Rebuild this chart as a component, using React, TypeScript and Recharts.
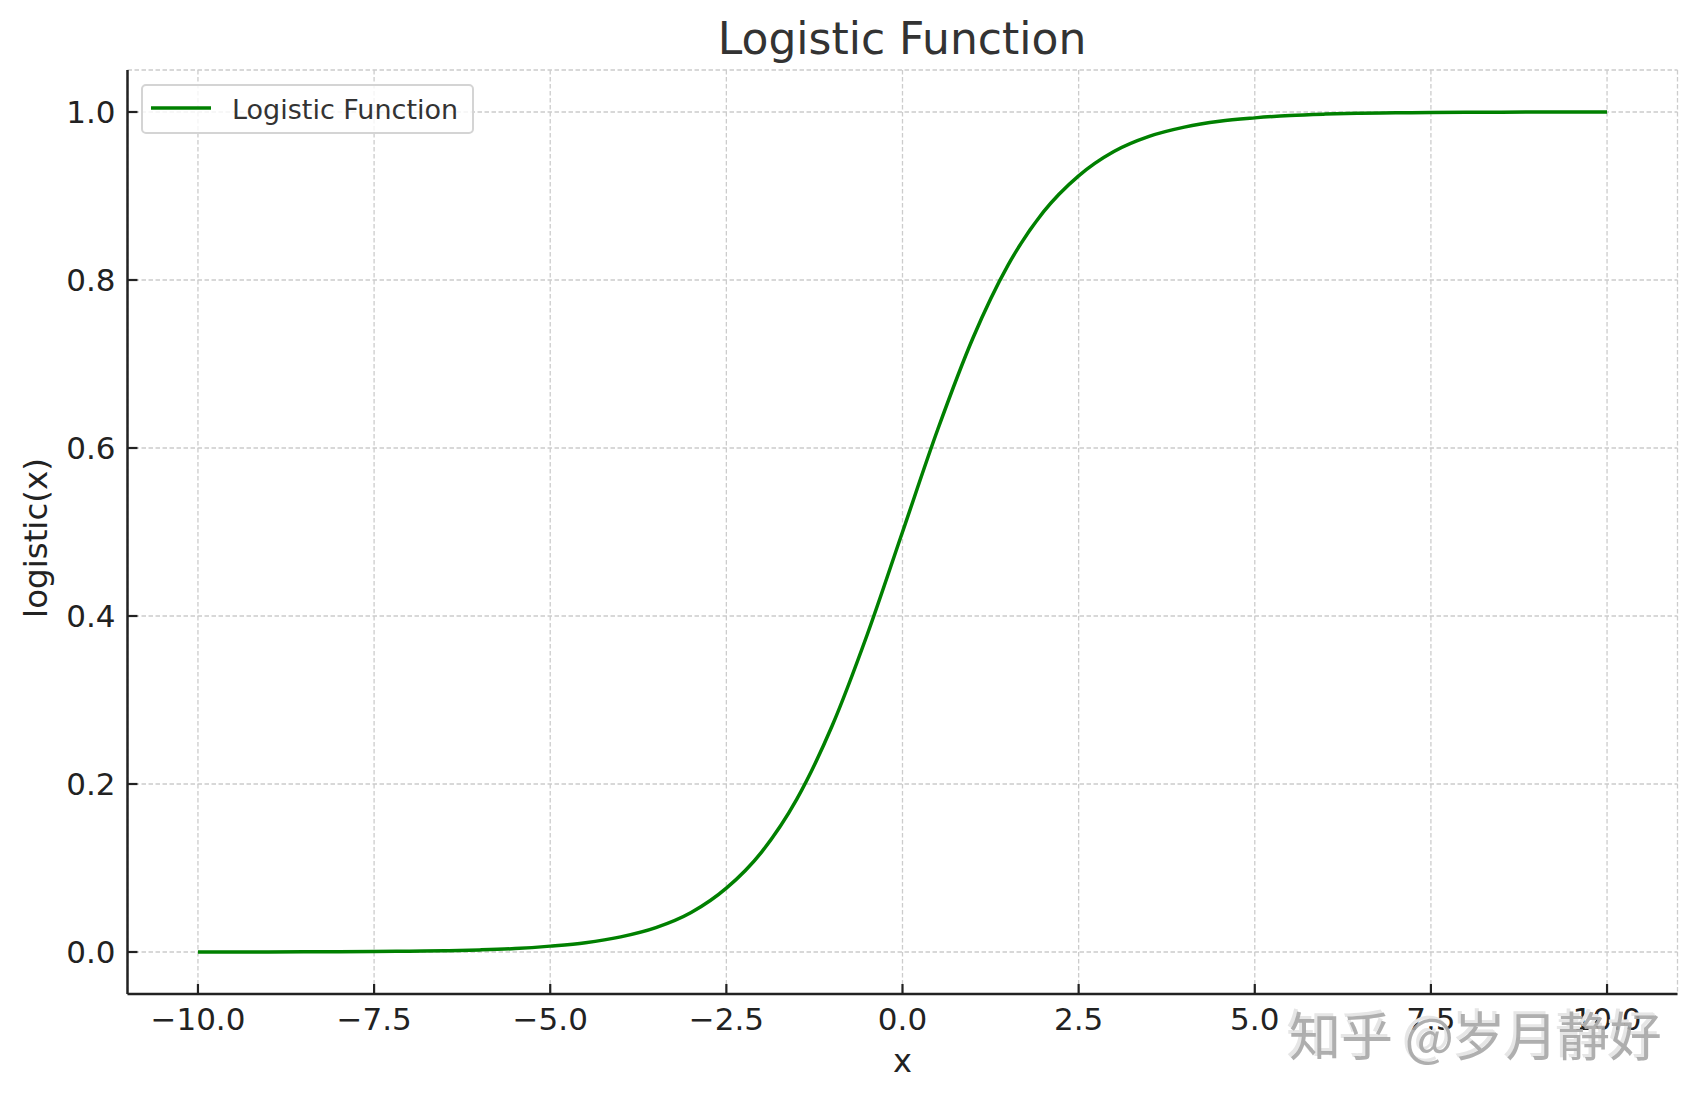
import { LineChart, Line, XAxis, YAxis, CartesianGrid, Legend } from 'recharts';

// values
const xValues = [
  -10, -9.5, -9, -8.5, -8, -7.5, -7, -6.5, -6, -5.5, -5, -4.5, -4, -3.5, -3, -2.5, -2, -1.5, -1, -0.5,
  0, 0.5, 1, 1.5, 2, 2.5, 3, 3.5, 4, 4.5, 5, 5.5, 6, 6.5, 7, 7.5, 8, 8.5, 9, 9.5, 10,
];
const logisticValues = [
  0.0, 0.0001, 0.0001, 0.0002, 0.0003, 0.0006, 0.0009, 0.0015, 0.0025, 0.0041, 0.007, 0.011, 0.018,
  0.029, 0.047, 0.076, 0.119, 0.182, 0.269, 0.378, 0.5, 0.622, 0.731, 0.818, 0.881, 0.924, 0.953, 0.971,
  0.982, 0.989, 0.993, 0.9959, 0.9975, 0.9985, 0.9991, 0.9994, 0.9997, 0.9998, 0.9999, 0.9999, 1.0,
];
const xTicks = [-10, -7.5, -5, -2.5, 0, 2.5, 5, 7.5, 10];
const yTicks = [0, 0.2, 0.4, 0.6, 0.8, 1.0];

const data = xValues.map((x, i) => ({ x, y: logisticValues[i] }));

const FONT = '"DejaVu Sans", sans-serif';
const fmt = (v: number) => v.toFixed(1).replace('-', '\u2212');

const XTick = (props: any) => {
  const { x, y, payload } = props;
  return (
    <g>
      <line x1={x} y1={y} x2={x} y2={y - 10} stroke="#222" strokeWidth={2.2} />
      <text x={x} y={y + 36} textAnchor="middle" fontSize={31} fontFamily={FONT} fill="#222">
        {fmt(payload.value)}
      </text>
    </g>
  );
};

const YTick = (props: any) => {
  const { x, y, payload } = props;
  return (
    <g>
      <line x1={x} y1={y} x2={x + 10} y2={y} stroke="#222" strokeWidth={2.2} />
      <text x={x - 12} y={y} dy="0.36em" textAnchor="end" fontSize={31} fontFamily={FONT} fill="#222">
        {fmt(payload.value)}
      </text>
    </g>
  );
};

const LegendBox = () => (
  <div
    style={{
      boxSizing: 'border-box',
      width: 333,
      height: 50,
      border: '2px solid #d4d4d4',
      borderRadius: 5,
      background: 'rgba(255,255,255,0.8)',
      display: 'flex',
      alignItems: 'center',
      fontFamily: FONT,
      fontSize: 27,
      color: '#333',
    }}
  >
    <svg width={90} height={46} style={{ flex: 'none' }}>
      <line x1={8} y1={22} x2={68} y2={22} stroke="#008000" strokeWidth={3.5} />
    </svg>
    <span style={{ marginLeft: -1 }}>Logistic Function</span>
  </div>
);

export default function App() {
  return (
    <div style={{ position: 'relative', width: 1697, height: 1101, background: '#fff' }}>
      <style>{'body{margin:0}'}</style>
      <LineChart
        width={1697}
        height={1101}
        data={data}
        margin={{ top: 70, right: 19.5, bottom: 47, left: 27.5 }}
      >
        <CartesianGrid stroke="#cccccc" strokeWidth={1.3} strokeDasharray="4.5 2.5" />
        <XAxis
          type="number"
          dataKey="x"
          domain={[-11, 11]}
          ticks={xTicks}
          allowDataOverflow
          height={60}
          tickSize={0}
          tickMargin={0}
          tickLine={false}
          tick={<XTick />}
          axisLine={{ stroke: '#222', strokeWidth: 2.5 }}
          label={{
            value: 'x',
            content: ({ viewBox }: any) => (
              <text
                x={viewBox.x + viewBox.width / 2}
                y={viewBox.y + 78}
                textAnchor="middle"
                fontSize={32}
                fontFamily={FONT}
                fill="#222"
              >
                x
              </text>
            ),
          }}
        />
        <YAxis
          type="number"
          domain={[-0.05, 1.05]}
          ticks={yTicks}
          allowDataOverflow
          width={100}
          tickSize={0}
          tickMargin={0}
          tickLine={false}
          tick={<YTick />}
          axisLine={{ stroke: '#222', strokeWidth: 2.5 }}
          label={{
            value: 'logistic(x)',
            content: ({ viewBox }: any) => {
              const cx = 46.5;
              const cy = viewBox.y + viewBox.height / 2 + 6;
              return (
                <text
                  x={cx}
                  y={cy}
                  transform={`rotate(-90 ${cx} ${cy})`}
                  textAnchor="middle"
                  fontSize={32.5}
                  fontFamily={FONT}
                  fill="#222"
                >
                  logistic(x)
                </text>
              );
            },
          }}
        />
        <Legend
          layout="horizontal"
          verticalAlign="middle"
          align="center"
          content={<LegendBox />}
          wrapperStyle={{ position: 'absolute', top: 84, left: 141, width: 333, height: 50 }}
        />
        <Line
          type="monotone"
          dataKey="y"
          name="Logistic Function"
          stroke="#008000"
          strokeWidth={3.5}
          dot={false}
          activeDot={false}
          isAnimationActive={false}
        />
      </LineChart>
      <svg
        width={1697}
        height={1101}
        style={{ position: 'absolute', top: 0, left: 0, pointerEvents: 'none' }}
      >
        <text x={902} y={54} textAnchor="middle" fontSize={44} fontFamily={FONT} fill="#333">
          Logistic Function
        </text>
        <text
          x={1286}
          y={1053}
          fontSize={52}
          fontFamily='"Noto Sans CJK SC", sans-serif'
          fill="#e6e6e6"
        >
          知乎 @岁月静好
        </text>
        <text
          x={1289}
          y={1056}
          fontSize={52}
          fontFamily='"Noto Sans CJK SC", sans-serif'
          fill="#a6a6a6"
          fillOpacity={0.9}
        >
          知乎 @岁月静好
        </text>
      </svg>
    </div>
  );
}
